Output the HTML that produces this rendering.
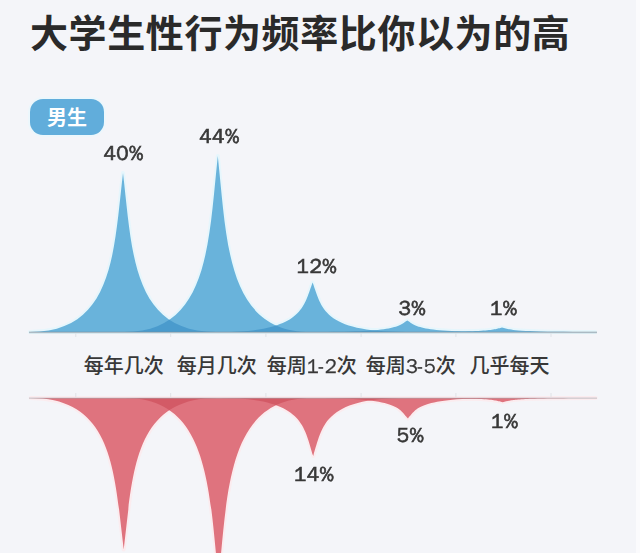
<!DOCTYPE html>
<html><head><meta charset="utf-8">
<style>
html,body{margin:0;padding:0;}
body{width:640px;height:553px;overflow:hidden;background:#f4f5f9;position:relative;
font-family:"Liberation Sans","Noto Sans CJK SC",sans-serif;}
.t{position:absolute;white-space:nowrap;line-height:1;}
#title{left:30px;top:12px;font-size:38px;font-weight:700;color:#2a2a2a;letter-spacing:0.6px;
font-family:"Noto Sans CJK SC",sans-serif;}
#badge{position:absolute;left:30px;top:99px;width:74px;height:36px;border-radius:13px;background:#61addb;box-shadow:0 0 0 2px #ecf7fc;
color:#fff;font-size:20px;font-weight:700;font-family:"Noto Sans CJK SC",sans-serif;text-align:center;line-height:36px;}
.cat{font-size:20px;font-weight:500;color:#383838;font-family:"Liberation Sans","Noto Sans CJK SC",sans-serif;}
.cat b{font-weight:400;font-family:"WenQuanYi Zen Hei",sans-serif;-webkit-text-stroke:0.3px #383838;}
.v{font-size:20.5px;color:#383838;font-family:"WenQuanYi Zen Hei",sans-serif;-webkit-text-stroke:0.65px #383838;letter-spacing:0.5px;}
svg{position:absolute;left:0;top:0;}
</style></head><body>
<svg width="640" height="553" viewBox="0 0 640 553">
<defs><clipPath id="b0"><path d="M30.00,332.00 L216.00,332.00 C132.30,332.00 132.30,252.50 123.00,173.00 C113.70,252.50 113.70,332.00 30.00,332.00 Z"/></clipPath><clipPath id="b1"><path d="M124.80,332.00 L310.80,332.00 C227.10,332.00 227.10,244.00 217.80,156.00 C208.50,244.00 208.50,332.00 124.80,332.00 Z"/></clipPath><clipPath id="b2"><path d="M219.60,332.00 L405.60,332.00 C321.90,332.00 321.90,307.30 312.60,282.60 C303.30,307.30 303.30,332.00 219.60,332.00 Z"/></clipPath><clipPath id="b3"><path d="M314.30,332.00 L500.30,332.00 C416.60,332.00 416.60,326.25 407.30,320.50 C398.00,326.25 398.00,332.00 314.30,332.00 Z"/></clipPath><clipPath id="b4"><path d="M409.00,332.00 L595.00,332.00 C511.30,332.00 511.30,329.75 502.00,327.50 C492.70,329.75 492.70,332.00 409.00,332.00 Z"/></clipPath><clipPath id="r0"><path d="M30.70,398.00 L216.70,398.00 C133.00,398.00 133.00,473.75 123.70,549.50 C114.40,473.75 114.40,398.00 30.70,398.00 Z"/></clipPath><clipPath id="r1"><path d="M125.50,398.00 L311.50,398.00 C227.80,398.00 227.80,489.00 218.50,580.00 C209.20,489.00 209.20,398.00 125.50,398.00 Z"/></clipPath><clipPath id="r2"><path d="M220.30,398.00 L406.30,398.00 C322.60,398.00 322.60,427.00 313.30,456.00 C304.00,427.00 304.00,398.00 220.30,398.00 Z"/></clipPath><clipPath id="r3"><path d="M315.00,398.00 L501.00,398.00 C417.30,398.00 417.30,408.25 408.00,418.50 C398.70,408.25 398.70,398.00 315.00,398.00 Z"/></clipPath><clipPath id="r4"><path d="M409.70,398.00 L595.70,398.00 C512.00,398.00 512.00,400.10 502.70,402.20 C493.40,400.10 493.40,398.00 409.70,398.00 Z"/></clipPath></defs>
<g fill="none" stroke="#e6f6fc" stroke-width="4" stroke-linejoin="round"><path d="M30.00,332.00 L216.00,332.00 C132.30,332.00 132.30,252.50 123.00,173.00 C113.70,252.50 113.70,332.00 30.00,332.00 Z"/><path d="M124.80,332.00 L310.80,332.00 C227.10,332.00 227.10,244.00 217.80,156.00 C208.50,244.00 208.50,332.00 124.80,332.00 Z"/><path d="M219.60,332.00 L405.60,332.00 C321.90,332.00 321.90,307.30 312.60,282.60 C303.30,307.30 303.30,332.00 219.60,332.00 Z"/><path d="M314.30,332.00 L500.30,332.00 C416.60,332.00 416.60,326.25 407.30,320.50 C398.00,326.25 398.00,332.00 314.30,332.00 Z"/><path d="M409.00,332.00 L595.00,332.00 C511.30,332.00 511.30,329.75 502.00,327.50 C492.70,329.75 492.70,332.00 409.00,332.00 Z"/></g><g fill="#69b3db"><path d="M30.00,332.00 L216.00,332.00 C132.30,332.00 132.30,252.50 123.00,173.00 C113.70,252.50 113.70,332.00 30.00,332.00 Z"/><path d="M124.80,332.00 L310.80,332.00 C227.10,332.00 227.10,244.00 217.80,156.00 C208.50,244.00 208.50,332.00 124.80,332.00 Z"/><path d="M219.60,332.00 L405.60,332.00 C321.90,332.00 321.90,307.30 312.60,282.60 C303.30,307.30 303.30,332.00 219.60,332.00 Z"/><path d="M314.30,332.00 L500.30,332.00 C416.60,332.00 416.60,326.25 407.30,320.50 C398.00,326.25 398.00,332.00 314.30,332.00 Z"/><path d="M409.00,332.00 L595.00,332.00 C511.30,332.00 511.30,329.75 502.00,327.50 C492.70,329.75 492.70,332.00 409.00,332.00 Z"/></g><g fill="#4a9bcd"><path clip-path="url(#b0)" d="M124.80,332.00 L310.80,332.00 C227.10,332.00 227.10,244.00 217.80,156.00 C208.50,244.00 208.50,332.00 124.80,332.00 Z"/><path clip-path="url(#b1)" d="M219.60,332.00 L405.60,332.00 C321.90,332.00 321.90,307.30 312.60,282.60 C303.30,307.30 303.30,332.00 219.60,332.00 Z"/><path clip-path="url(#b2)" d="M314.30,332.00 L500.30,332.00 C416.60,332.00 416.60,326.25 407.30,320.50 C398.00,326.25 398.00,332.00 314.30,332.00 Z"/><path clip-path="url(#b3)" d="M409.00,332.00 L595.00,332.00 C511.30,332.00 511.30,329.75 502.00,327.50 C492.70,329.75 492.70,332.00 409.00,332.00 Z"/></g>
<rect x="29" y="331.6" width="568" height="1.6" fill="#7a8896" fill-opacity="0.55"/>
<g stroke="#dfe3e8" stroke-width="1"><line x1="75.8" y1="333.0" x2="75.8" y2="337.0"/><line x1="170.7" y1="333.0" x2="170.7" y2="337.0"/><line x1="265.9" y1="333.0" x2="265.9" y2="337.0"/><line x1="361.1" y1="333.0" x2="361.1" y2="337.0"/><line x1="455.9" y1="333.0" x2="455.9" y2="337.0"/><line x1="551.0" y1="333.0" x2="551.0" y2="337.0"/></g>
<g fill="none" stroke="#fbecef" stroke-width="4" stroke-linejoin="round"><path d="M30.70,398.00 L216.70,398.00 C133.00,398.00 133.00,473.75 123.70,549.50 C114.40,473.75 114.40,398.00 30.70,398.00 Z"/><path d="M125.50,398.00 L311.50,398.00 C227.80,398.00 227.80,489.00 218.50,580.00 C209.20,489.00 209.20,398.00 125.50,398.00 Z"/><path d="M220.30,398.00 L406.30,398.00 C322.60,398.00 322.60,427.00 313.30,456.00 C304.00,427.00 304.00,398.00 220.30,398.00 Z"/><path d="M315.00,398.00 L501.00,398.00 C417.30,398.00 417.30,408.25 408.00,418.50 C398.70,408.25 398.70,398.00 315.00,398.00 Z"/><path d="M409.70,398.00 L595.70,398.00 C512.00,398.00 512.00,400.10 502.70,402.20 C493.40,400.10 493.40,398.00 409.70,398.00 Z"/></g><g fill="#df737e"><path d="M30.70,398.00 L216.70,398.00 C133.00,398.00 133.00,473.75 123.70,549.50 C114.40,473.75 114.40,398.00 30.70,398.00 Z"/><path d="M125.50,398.00 L311.50,398.00 C227.80,398.00 227.80,489.00 218.50,580.00 C209.20,489.00 209.20,398.00 125.50,398.00 Z"/><path d="M220.30,398.00 L406.30,398.00 C322.60,398.00 322.60,427.00 313.30,456.00 C304.00,427.00 304.00,398.00 220.30,398.00 Z"/><path d="M315.00,398.00 L501.00,398.00 C417.30,398.00 417.30,408.25 408.00,418.50 C398.70,408.25 398.70,398.00 315.00,398.00 Z"/><path d="M409.70,398.00 L595.70,398.00 C512.00,398.00 512.00,400.10 502.70,402.20 C493.40,400.10 493.40,398.00 409.70,398.00 Z"/></g><g fill="#d35a66"><path clip-path="url(#r0)" d="M125.50,398.00 L311.50,398.00 C227.80,398.00 227.80,489.00 218.50,580.00 C209.20,489.00 209.20,398.00 125.50,398.00 Z"/><path clip-path="url(#r1)" d="M220.30,398.00 L406.30,398.00 C322.60,398.00 322.60,427.00 313.30,456.00 C304.00,427.00 304.00,398.00 220.30,398.00 Z"/><path clip-path="url(#r2)" d="M315.00,398.00 L501.00,398.00 C417.30,398.00 417.30,408.25 408.00,418.50 C398.70,408.25 398.70,398.00 315.00,398.00 Z"/><path clip-path="url(#r3)" d="M409.70,398.00 L595.70,398.00 C512.00,398.00 512.00,400.10 502.70,402.20 C493.40,400.10 493.40,398.00 409.70,398.00 Z"/></g>
<rect x="29" y="397.4" width="568" height="1.6" fill="#9fa4ab" fill-opacity="0.4"/>
<g stroke="#e0e2e6" stroke-width="1"><line x1="75.8" y1="397.0" x2="75.8" y2="393.0"/><line x1="170.7" y1="397.0" x2="170.7" y2="393.0"/><line x1="265.9" y1="397.0" x2="265.9" y2="393.0"/><line x1="361.1" y1="397.0" x2="361.1" y2="393.0"/><line x1="455.9" y1="397.0" x2="455.9" y2="393.0"/><line x1="551.0" y1="397.0" x2="551.0" y2="393.0"/></g>
</svg>
<div style="position:absolute;left:636px;top:0;width:4px;height:553px;background:#fbfbfd"></div>
<div id="title" class="t">大学生性行为频率比你以为的高</div>
<div id="badge">男生</div>
<div class="t cat" style="left:83.7px;top:356px">每年几次</div>
<div class="t cat" style="left:176.8px;top:356px">每月几次</div>
<div class="t cat" style="left:266.8px;top:356px">每周<b>1-2</b>次</div>
<div class="t cat" style="left:365.7px;top:356px">每周<b>3-5</b>次</div>
<div class="t cat" style="left:469.6px;top:356px">几乎每天</div>
<div class="t v" style="left:103.4px;top:143px">40%</div>
<div class="t v" style="left:199.3px;top:125.8px">44%</div>
<div class="t v" style="left:296.6px;top:256.4px">12%</div>
<div class="t v" style="left:398.5px;top:298.3px">3%</div>
<div class="t v" style="left:490px;top:298px">1%</div>
<div class="t v" style="left:294px;top:464.3px">14%</div>
<div class="t v" style="left:396.8px;top:425px">5%</div>
<div class="t v" style="left:491px;top:411.3px">1%</div>
</body></html>
